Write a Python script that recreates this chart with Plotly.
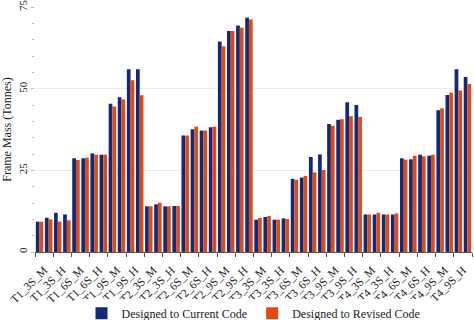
import plotly.graph_objects as go

categories = ["T1_3S_M", "T1_3S_H", "T1_6S_M", "T1_6S_H", "T1_9S_M", "T1_9S_H",
              "T2_3S_M", "T2_3S_H", "T2_6S_M", "T2_6S_H", "T2_9S_M", "T2_9S_H",
              "T3_3S_M", "T3_3S_H", "T3_6S_M", "T3_6S_H", "T3_9S_M", "T3_9S_H",
              "T4_3S_M", "T4_3S_H", "T4_6S_M", "T4_6S_H", "T4_9S_M", "T4_9S_H"]

current_code = [9.3, 10.5, 12.0, 11.5, 28.7, 28.7, 30.2, 29.8, 45.4, 47.4, 56.0, 56.0,
                14.0, 14.6, 14.0, 14.1, 35.7, 37.6, 37.2, 38.2, 64.5, 67.7, 69.4, 71.8,
                9.9, 10.7, 9.9, 10.3, 22.4, 22.8, 29.1, 29.9, 39.2, 40.5, 45.9, 45.0,
                11.5, 11.5, 11.5, 11.5, 28.7, 28.4, 29.8, 29.5, 43.4, 48.1, 56.0, 53.6]
revised_code = [9.3, 10.0, 9.3, 9.7, 28.2, 28.9, 29.8, 29.8, 44.6, 46.7, 52.6, 48.0,
                14.0, 15.1, 14.0, 14.1, 35.7, 38.4, 37.2, 38.4, 63.0, 67.7, 68.7, 71.2,
                10.4, 11.0, 9.9, 10.1, 22.1, 23.3, 24.4, 25.1, 38.7, 40.7, 41.6, 41.4,
                11.5, 12.0, 11.5, 11.8, 28.3, 29.5, 29.3, 29.8, 44.0, 48.8, 49.5, 51.5]

y_ticks = [0, 25, 50, 75]

x = list(range(len(current_code)))
label_pos = [2 * i + 0.5 for i in range(len(categories))]

font = "Liberation Serif"

fig = go.Figure()
fig.add_trace(go.Bar(x=x, y=current_code, name="Designed to Current Code",
                     marker=dict(color="#10297a", line=dict(width=0))))
fig.add_trace(go.Bar(x=x, y=revised_code, name="Designed to Revised Code",
                     marker=dict(color="#e04a14", line=dict(width=0))))

fig.update_layout(
    width=474, height=320,
    margin=dict(l=35, r=2, t=7, b=68, autoexpand=False),
    paper_bgcolor="white", plot_bgcolor="white",
    barmode="group", bargap=0.18, bargroupgap=0.0,
    font=dict(family=font, size=11, color="#222"),
    showlegend=True,
    legend=dict(orientation="h", x=0.5, xanchor="center", y=-0.25, yanchor="middle",
                font=dict(family=font, size=12, color="#222"),
                itemwidth=30, tracegroupgap=0, traceorder="normal"),
    xaxis=dict(
        range=[-0.5, len(x) - 0.5],
        tickmode="array", tickvals=label_pos, ticktext=categories,
        tickangle=-45, ticks="outside", ticklen=6, tickcolor="rgba(0,0,0,0)",
        tickfont=dict(family=font, size=11.5, color="#222"),
        showline=True, linecolor="#555", linewidth=1,
        showgrid=False, zeroline=False, automargin=False,
        ticklabeloverflow="allow",
        minor=dict(tick0=-0.5, dtick=2, ticks="outside", ticklen=4,
                   tickcolor="#555", showgrid=False),
    ),
    yaxis=dict(
        range=[0, 75.05],
        tickmode="array", tickvals=y_ticks,
        tickangle=-90, automargin=False,
        ticklabeloverflow="allow",
        tickfont=dict(family=font, size=11, color="#222"),
        title=dict(text="Frame Mass (Tonnes)", font=dict(family=font, size=12, color="#222"),
                   standoff=4),
        showgrid=True, gridcolor="#ececec", gridwidth=1,
        showline=False, zeroline=False,
        ticks="outside", ticklen=3, tickcolor="#bbb",
        minor=dict(dtick=5, ticks="outside", ticklen=2, tickcolor="#bbb", showgrid=False),
    ),
)

fig.write_html("out.html")
